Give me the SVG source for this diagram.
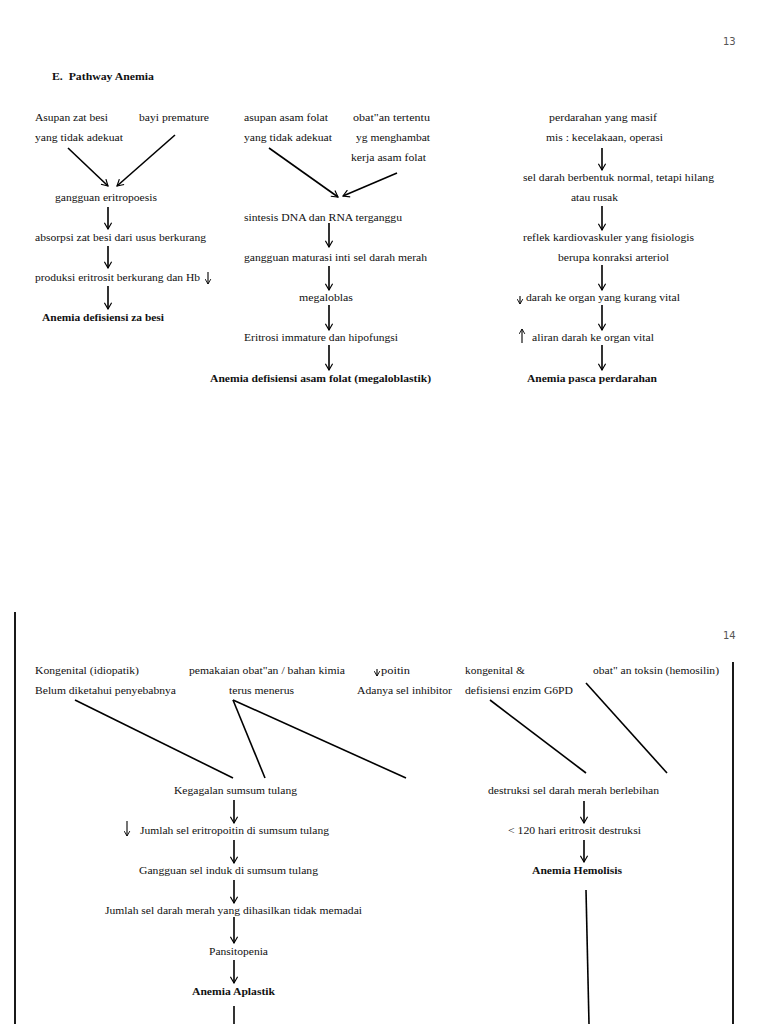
<svg xmlns="http://www.w3.org/2000/svg" width="768" height="1024" viewBox="0 0 768 1024">
<style>
text{font-family:"Liberation Serif","Times New Roman",serif;font-size:11px;fill:#111}
.b{font-weight:bold}
.pg{font-family:"DejaVu Sans","Liberation Sans",sans-serif;font-size:10px;fill:#555}
.c line,.c path{stroke:#000;stroke-width:1.6;fill:none}
.c .s{stroke-width:1.1}
.d{stroke:#000;stroke-width:1.8;fill:none}
.border{stroke:#000;stroke-width:1.8}
</style>
<defs>
<marker id="ah" viewBox="0 0 10 10" refX="9" refY="5" markerWidth="9" markerHeight="9" markerUnits="userSpaceOnUse" orient="auto">
<path d="M2,1 L9,5 L2,9" stroke="#000" stroke-width="1.3" fill="none"/>
</marker>
<marker id="sm" viewBox="0 0 10 10" refX="9" refY="5" markerWidth="7" markerHeight="7" markerUnits="userSpaceOnUse" orient="auto">
<path d="M2,1 L9,5 L2,9" stroke="#000" stroke-width="1.3" fill="none"/>
</marker>
</defs>
<rect width="768" height="1024" fill="#fff"/>

<g id="page-numbers">
<text class="pg" x="723" y="45">13</text>
<text class="pg" x="723" y="639">14</text>
</g>
<g id="title"><text class="b" x="52" y="80" xml:space="preserve" textLength="102" lengthAdjust="spacingAndGlyphs">E.  Pathway Anemia</text></g>

<g id="borders">
<line class="border" x1="15" y1="612" x2="15" y2="1024"/>
<line class="border" x1="733" y1="662" x2="733" y2="1024"/>
</g>

<!-- Column 1 -->
<g id="n-asupan-besi"><text x="35" y="121" textLength="73" lengthAdjust="spacingAndGlyphs">Asupan zat besi</text><text x="35" y="141" textLength="88" lengthAdjust="spacingAndGlyphs">yang tidak adekuat</text></g>
<g id="n-bayi"><text x="139" y="121" textLength="70" lengthAdjust="spacingAndGlyphs">bayi premature</text></g>
<g id="n-gangguan-eritropoesis"><text x="55" y="201" textLength="102" lengthAdjust="spacingAndGlyphs">gangguan eritropoesis</text></g>
<g id="n-absorpsi"><text x="35" y="241" textLength="171" lengthAdjust="spacingAndGlyphs">absorpsi zat besi dari usus berkurang</text></g>
<g id="n-produksi"><text x="35" y="281" textLength="165" lengthAdjust="spacingAndGlyphs">produksi eritrosit berkurang dan Hb</text></g>
<g id="n-anemia-besi"><text class="b" x="42" y="321" textLength="122" lengthAdjust="spacingAndGlyphs">Anemia defisiensi za besi</text></g>

<!-- Column 2 -->
<g id="n-asupan-folat"><text x="244" y="121" textLength="84" lengthAdjust="spacingAndGlyphs">asupan asam folat</text><text x="244" y="141" textLength="88" lengthAdjust="spacingAndGlyphs">yang tidak adekuat</text></g>
<g id="n-obat-tertentu"><text x="353" y="121" textLength="77" lengthAdjust="spacingAndGlyphs">obat"an tertentu</text><text x="356" y="141" textLength="74" lengthAdjust="spacingAndGlyphs">yg menghambat</text><text x="351" y="161" textLength="75" lengthAdjust="spacingAndGlyphs">kerja asam folat</text></g>
<g id="n-sintesis"><text x="244" y="221" textLength="158" lengthAdjust="spacingAndGlyphs">sintesis DNA dan RNA terganggu</text></g>
<g id="n-maturasi"><text x="244" y="261" textLength="183" lengthAdjust="spacingAndGlyphs">gangguan maturasi inti sel darah merah</text></g>
<g id="n-megaloblas"><text x="299" y="301" textLength="54" lengthAdjust="spacingAndGlyphs">megaloblas</text></g>
<g id="n-eritrosi"><text x="244" y="341" textLength="154" lengthAdjust="spacingAndGlyphs">Eritrosi immature dan hipofungsi</text></g>
<g id="n-anemia-folat"><text class="b" x="210" y="382" textLength="221" lengthAdjust="spacingAndGlyphs">Anemia defisiensi asam folat (megaloblastik)</text></g>

<!-- Column 3 -->
<g id="n-perdarahan"><text x="549" y="121" textLength="108" lengthAdjust="spacingAndGlyphs">perdarahan yang masif</text><text x="546" y="141" textLength="117" lengthAdjust="spacingAndGlyphs">mis : kecelakaan, operasi</text></g>
<g id="n-sel-darah"><text x="523" y="181" textLength="191" lengthAdjust="spacingAndGlyphs">sel darah berbentuk normal, tetapi hilang</text><text x="571" y="201" textLength="47" lengthAdjust="spacingAndGlyphs">atau rusak</text></g>
<g id="n-reflek"><text x="523" y="241" textLength="171" lengthAdjust="spacingAndGlyphs">reflek kardiovaskuler yang fisiologis</text><text x="558" y="261" textLength="111" lengthAdjust="spacingAndGlyphs">berupa konraksi arteriol</text></g>
<g id="n-darah-organ"><text x="526" y="301" textLength="154" lengthAdjust="spacingAndGlyphs">darah ke organ yang kurang vital</text></g>
<g id="n-aliran"><text x="532" y="341" textLength="122" lengthAdjust="spacingAndGlyphs">aliran darah ke organ vital</text></g>
<g id="n-anemia-pasca"><text class="b" x="527" y="382" textLength="130" lengthAdjust="spacingAndGlyphs">Anemia pasca perdarahan</text></g>

<!-- Bottom left -->
<g id="n-kongenital"><text x="35" y="674" textLength="104" lengthAdjust="spacingAndGlyphs">Kongenital (idiopatik)</text><text x="35" y="694" textLength="141" lengthAdjust="spacingAndGlyphs">Belum diketahui penyebabnya</text></g>
<g id="n-pemakaian"><text x="189" y="674" textLength="156" lengthAdjust="spacingAndGlyphs">pemakaian obat"an / bahan kimia</text><text x="229" y="694" textLength="65" lengthAdjust="spacingAndGlyphs">terus menerus</text></g>
<g id="n-poitin"><text x="381" y="674" textLength="29" lengthAdjust="spacingAndGlyphs">poitin</text><text x="357" y="694" textLength="95" lengthAdjust="spacingAndGlyphs">Adanya sel inhibitor</text></g>
<g id="n-kegagalan"><text x="174" y="794" textLength="123" lengthAdjust="spacingAndGlyphs">Kegagalan sumsum tulang</text></g>
<g id="n-jumlah-eritropoitin"><text x="140" y="834" textLength="189" lengthAdjust="spacingAndGlyphs">Jumlah sel eritropoitin di sumsum tulang</text></g>
<g id="n-gangguan-induk"><text x="139" y="874" textLength="179" lengthAdjust="spacingAndGlyphs">Gangguan sel induk di sumsum tulang</text></g>
<g id="n-jumlah-darah"><text x="105" y="914" textLength="257" lengthAdjust="spacingAndGlyphs">Jumlah sel darah merah yang dihasilkan tidak memadai</text></g>
<g id="n-pansitopenia"><text x="209" y="955" textLength="59" lengthAdjust="spacingAndGlyphs">Pansitopenia</text></g>
<g id="n-anemia-aplastik"><text class="b" x="192" y="995" textLength="83" lengthAdjust="spacingAndGlyphs">Anemia Aplastik</text></g>

<!-- Bottom right -->
<g id="n-kongenital-g6pd"><text x="465" y="674" textLength="60" lengthAdjust="spacingAndGlyphs">kongenital &amp;</text><text x="465" y="694" textLength="108" lengthAdjust="spacingAndGlyphs">defisiensi enzim G6PD</text></g>
<g id="n-obat-toksin"><text x="593" y="674" textLength="126" lengthAdjust="spacingAndGlyphs">obat" an toksin (hemosilin)</text></g>
<g id="n-destruksi"><text x="488" y="794" textLength="171" lengthAdjust="spacingAndGlyphs">destruksi sel darah merah berlebihan</text></g>
<g id="n-120-hari"><text x="508" y="834" textLength="133" lengthAdjust="spacingAndGlyphs">&lt; 120 hari eritrosit destruksi</text></g>
<g id="n-anemia-hemolisis"><text class="b" x="532" y="874" textLength="90" lengthAdjust="spacingAndGlyphs">Anemia Hemolisis</text></g>

<g id="connectors" class="c">
<!-- column 1 -->
<line x1="68" y1="148" x2="108" y2="186" marker-end="url(#ah)"/>
<line x1="175" y1="135" x2="117" y2="186" marker-end="url(#ah)"/>
<line x1="108" y1="207" x2="108" y2="229" marker-end="url(#ah)"/>
<line x1="108" y1="246" x2="108" y2="268" marker-end="url(#ah)"/>
<line x1="108" y1="286" x2="108" y2="309" marker-end="url(#ah)"/>
<line class="s" x1="208" y1="272" x2="208" y2="284" marker-end="url(#sm)"/>
<!-- column 2 -->
<line x1="269" y1="148" x2="338" y2="197" marker-end="url(#ah)"/>
<line x1="397" y1="173" x2="343" y2="196" marker-end="url(#ah)"/>
<line x1="329" y1="223" x2="329" y2="247" marker-end="url(#ah)"/>
<line x1="329" y1="266" x2="329" y2="290" marker-end="url(#ah)"/>
<line x1="329" y1="305" x2="329" y2="330" marker-end="url(#ah)"/>
<line x1="329" y1="345" x2="329" y2="370" marker-end="url(#ah)"/>
<!-- column 3 -->
<line x1="602" y1="148" x2="602" y2="170" marker-end="url(#ah)"/>
<line x1="602" y1="206" x2="602" y2="230" marker-end="url(#ah)"/>
<line x1="602" y1="265" x2="602" y2="290" marker-end="url(#ah)"/>
<line x1="602" y1="305" x2="602" y2="330" marker-end="url(#ah)"/>
<line x1="602" y1="345" x2="602" y2="370" marker-end="url(#ah)"/>
<line class="s" x1="520" y1="296" x2="520" y2="304" marker-end="url(#sm)"/>
<line class="s" x1="522" y1="343" x2="522" y2="329" marker-end="url(#sm)"/>
<!-- bottom left -->
<line class="d" x1="75" y1="700" x2="233" y2="778"/>
<line class="d" x1="233" y1="700" x2="265" y2="778"/>
<line class="d" x1="233" y1="700" x2="406" y2="778"/>
<line class="s" x1="377" y1="669" x2="377" y2="676" marker-end="url(#sm)"/>
<line x1="234" y1="800" x2="234" y2="823" marker-end="url(#ah)"/>
<line class="s" x1="127" y1="821" x2="127" y2="836" marker-end="url(#sm)"/>
<line x1="234" y1="840" x2="234" y2="863" marker-end="url(#ah)"/>
<line x1="234" y1="880" x2="234" y2="903" marker-end="url(#ah)"/>
<line x1="234" y1="917" x2="234" y2="943" marker-end="url(#ah)"/>
<line x1="234" y1="960" x2="234" y2="983" marker-end="url(#ah)"/>
<line x1="234" y1="1006" x2="234" y2="1024"/>
<!-- bottom right -->
<line class="d" x1="490" y1="700" x2="586" y2="773"/>
<line class="d" x1="586" y1="683" x2="667" y2="773"/>
<line x1="584" y1="801" x2="584" y2="823" marker-end="url(#ah)"/>
<line x1="584" y1="840" x2="584" y2="862" marker-end="url(#ah)"/>
<line x1="586" y1="890" x2="589" y2="1024"/>
</g>
</svg>
